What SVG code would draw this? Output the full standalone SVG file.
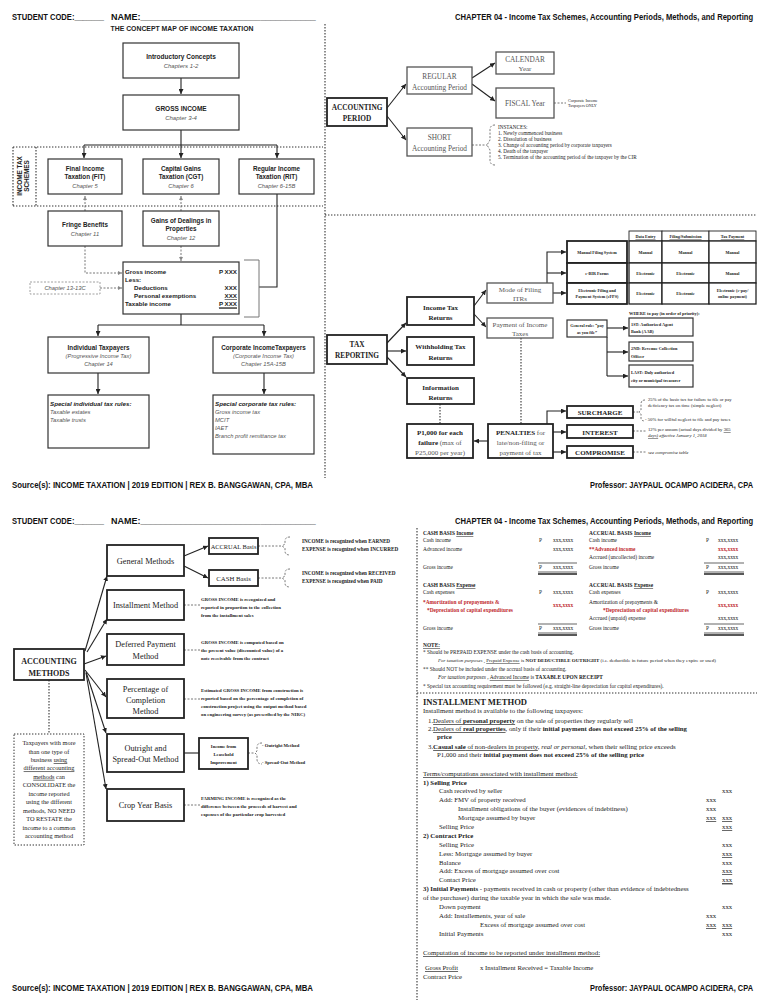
<svg xmlns="http://www.w3.org/2000/svg" width="768" height="1006" viewBox="0 0 768 1006">
<style>
.s{font-family:"Liberation Sans",Arial,sans-serif;fill:#222}
.t{font-family:"Liberation Serif","Times New Roman",serif;fill:#222}
.b{font-weight:bold}
.i{font-style:italic}
.g{fill:#555}
.r{fill:#c0282d;font-weight:bold}
.m{text-anchor:middle}
.e{text-anchor:end}
.u{text-decoration:underline}
.hd{font-family:"Liberation Sans",Arial,sans-serif;font-weight:bold;font-size:9px;fill:#111}
.bx{fill:#fff;stroke:#333;stroke-width:1.2}
.bk{fill:#fff;stroke:#222;stroke-width:1.8}
.gb{fill:#fff;stroke:#555;stroke-width:1.3}
.ln{fill:none;stroke:#222;stroke-width:1.1}
.tl{fill:none;stroke:#222;stroke-width:0.7}
.ds{fill:none;stroke:#555;stroke-width:0.8;stroke-dasharray:2 1.5}
.dt{fill:none;stroke:#333;stroke-width:1.1;stroke-dasharray:1.4 1.6}
</style>
<defs>
<marker id="ah" viewBox="0 0 10 10" refX="10" refY="5" markerWidth="5" markerHeight="5" markerUnits="userSpaceOnUse" orient="auto"><path d="M0,0L10,5L0,10z" fill="#222"/></marker>
<marker id="ag" viewBox="0 0 10 10" refX="10" refY="5" markerWidth="4" markerHeight="4" markerUnits="userSpaceOnUse" orient="auto"><path d="M0,0L10,5L0,10z" fill="#888"/></marker>
</defs>
<rect width="768" height="1006" fill="#fff"/>

<!-- ===== headers / footers ===== -->
<g id="headers">
<text class="hd" transform="translate(12,20) scale(0.844,1)" textLength="109" lengthAdjust="spacingAndGlyphs">STUDENT CODE:_______</text>
<text class="hd" x="111" y="20">NAME:___________________________________</text>
<text class="hd" transform="translate(455,20) scale(0.842,1)" textLength="354" lengthAdjust="spacingAndGlyphs">CHAPTER 04 - Income Tax Schemes, Accounting Periods, Methods, and Reporting</text>
<text class="hd" transform="translate(12,488) scale(0.856,1)" textLength="351.6" lengthAdjust="spacingAndGlyphs">Source(s): INCOME TAXATION | 2019 EDITION | REX B. BANGGAWAN, CPA, MBA</text>
<text class="hd" transform="translate(590,488) scale(0.815,1)" textLength="200" lengthAdjust="spacingAndGlyphs">Professor: JAYPAUL OCAMPO ACIDERA, CPA</text>
<text class="hd" transform="translate(12,524) scale(0.844,1)" textLength="109" lengthAdjust="spacingAndGlyphs">STUDENT CODE:_______</text>
<text class="hd" x="111" y="524">NAME:___________________________________</text>
<text class="hd" transform="translate(455,524) scale(0.842,1)" textLength="354" lengthAdjust="spacingAndGlyphs">CHAPTER 04 - Income Tax Schemes, Accounting Periods, Methods, and Reporting</text>
<text class="hd" transform="translate(12,991) scale(0.856,1)" textLength="351.6" lengthAdjust="spacingAndGlyphs">Source(s): INCOME TAXATION | 2019 EDITION | REX B. BANGGAWAN, CPA, MBA</text>
<text class="hd" transform="translate(590,991) scale(0.815,1)" textLength="200" lengthAdjust="spacingAndGlyphs">Professor: JAYPAUL OCAMPO ACIDERA, CPA</text>
</g>

<!-- separators -->
<g id="separators">
<path class="dt" d="M325,24V478M325,215H757M417,528V1000M417,693H757"/>
<path class="dt" d="M13,147H323M13,206H323M13,147V206M36,147V206"/>
</g>

<!-- ===== connectors ===== -->
<g id="connectors">
<path class="ln" marker-end="url(#ah)" d="M181,78V94"/>
<path class="ln" d="M181,130V145M84,145H277"/>
<path class="ln" marker-end="url(#ah)" d="M84,145V158"/>
<path class="ln" marker-end="url(#ah)" d="M181,145V158"/>
<path class="ln" marker-end="url(#ah)" d="M277,145V158"/>
<path class="ds" marker-end="url(#ag)" d="M85,211V196"/>
<path class="ds" marker-end="url(#ag)" d="M181,211V196"/>
<path class="ds" marker-end="url(#ag)" d="M85,246V273H122"/>
<path class="ds" marker-end="url(#ag)" d="M181,246V261"/>
<path class="ds" marker-end="url(#ag)" d="M100,288H122"/>
<path class="ln" d="M277,194V287H259"/>
<path fill="none" stroke="#777" stroke-width="1" d="M244,260H259V317H244"/>
<path class="ln" d="M181,314V325M98,325H264"/>
<path class="ln" marker-end="url(#ah)" d="M98,325V336"/>
<path class="ln" marker-end="url(#ah)" d="M264,325V336"/>
<path class="ln" marker-end="url(#ah)" d="M98,373V394"/>
<path class="ln" marker-end="url(#ah)" d="M264,373V394"/>
<path class="ln" marker-end="url(#ah)" d="M387,108L406,84"/>
<path class="ln" marker-end="url(#ah)" d="M387,116L406,140"/>
<path class="ln" marker-end="url(#ah)" d="M472,78L495,63"/>
<path class="ln" marker-end="url(#ah)" d="M472,84L495,101"/>
<path class="ds" d="M554,103H566M472,145H487"/>
<path class="ds" d="M495,125Q490,125 490,130V140L487,145L490,150V160Q490,165 495,165"/>
<path class="ln" marker-end="url(#ah)" d="M387,343L406,323"/>
<path class="ln" marker-end="url(#ah)" d="M387,351H406"/>
<path class="ln" marker-end="url(#ah)" d="M387,357L406,377"/>
<path class="ln" marker-end="url(#ah)" d="M474,306L486,290"/>
<path class="ln" marker-end="url(#ah)" d="M474,314L486,327"/>
<path class="ln" marker-end="url(#ah)" d="M547,283V252H566"/>
<path class="ln" marker-end="url(#ah)" d="M547,273H566"/>
<path class="ln" marker-end="url(#ah)" d="M553,293H566"/>
<path class="ln" marker-end="url(#ah)" d="M607,328H628"/>
<path class="ln" d="M607,337V376"/>
<path class="ln" marker-end="url(#ah)" d="M607,352H628"/>
<path class="ln" marker-end="url(#ah)" d="M607,376H628"/>
<path class="dt" stroke-width="0.9" d="M521,338V424M440,404V424"/>
<path class="ln" marker-end="url(#ah)" d="M488,441H474"/>
<path class="ln" marker-end="url(#ah)" d="M547,424V411H566"/>
<path class="ln" marker-end="url(#ah)" d="M553,432H566"/>
<path class="ln" marker-end="url(#ah)" d="M553,452H566"/>
<path class="ds" d="M633,412H640M645,400Q641,400 641,404V410L639,412L641,414V418Q641,421 645,421M633,431H647M633,452H647"/>
<path class="ln" marker-end="url(#ah)" d="M85,651L107,576"/>
<path class="ln" marker-end="url(#ah)" d="M87,652L107,619"/>
<path class="ln" marker-end="url(#ah)" d="M84,664L106,656"/>
<path class="ln" marker-end="url(#ah)" d="M85,670L106,697"/>
<path class="ln" marker-end="url(#ah)" d="M86,672L106,733"/>
<path class="ln" marker-end="url(#ah)" d="M86,673L106,789"/>
<path class="ln" marker-end="url(#ah)" d="M184,556L208,546"/>
<path class="ln" marker-end="url(#ah)" d="M184,566L208,578"/>
<path class="ln" d="M184,753H199"/>
<path class="ds" d="M258,546H282M290,537Q285,537 285,541V544L282,546L285,548V551Q285,555 290,555"/>
<path class="ds" d="M258,578H282M290,569Q285,569 285,573V576L282,578L285,580V583Q285,587 290,587"/>
<path class="ds" d="M184,605H200M184,650H200M184,699H200M184,805H200"/>
<path class="ds" d="M248,753H254M262,743Q257,743 257,747V751L255,753L257,755V759Q257,764 262,764"/>
<path class="dt" d="M49,680V734"/>
</g>

<!-- ===== concept map nodes ===== -->
<text class="s b m" x="182" y="31" font-size="6.3" textLength="143" lengthAdjust="spacingAndGlyphs">THE CONCEPT MAP OF INCOME TAXATION</text>
<g id="n-intro"><rect class="bx" x="123" y="43" width="116" height="35"/>
<text class="s b m" x="181" y="59" font-size="6.5">Introductory Concepts</text>
<text class="s i m g" x="181" y="67.5" font-size="6">Chapters 1-2</text></g>
<g id="n-gross"><rect class="bx" x="123" y="95" width="116" height="35"/>
<text class="s b m" x="181" y="111" font-size="6.5">GROSS INCOME</text>
<text class="s i m g" x="181" y="119.5" font-size="6">Chapter 3-4</text></g>
<g id="n-schemes"><text class="s b m" transform="translate(21.8,176) rotate(-90)" font-size="6.4">INCOME TAX</text>
<text class="s b m" transform="translate(29.3,176) rotate(-90)" font-size="6.4">SCHEMES</text></g>
<g id="n-fit"><rect class="bx" x="48" y="159" width="74" height="35"/>
<text class="s b m" x="85" y="171" font-size="6.3">Final Income</text>
<text class="s b m" x="85" y="179" font-size="6.3">Taxation (FIT)</text>
<text class="s i m g" x="85" y="187.5" font-size="5.8">Chapter 5</text></g>
<g id="n-cgt"><rect class="bx" x="143" y="159" width="76" height="35"/>
<text class="s b m" x="181" y="171" font-size="6.3">Capital Gains</text>
<text class="s b m" x="181" y="179" font-size="6.3">Taxation (CGT)</text>
<text class="s i m g" x="181" y="187.5" font-size="5.8">Chapter 6</text></g>
<g id="n-rit"><rect class="bx" x="239" y="159" width="75" height="35"/>
<text class="s b m" x="276.5" y="171" font-size="6.3">Regular Income</text>
<text class="s b m" x="276.5" y="179" font-size="6.3">Taxation (RIT)</text>
<text class="s i m g" x="276.5" y="187.5" font-size="5.8">Chapter 6-15B</text></g>
<g id="n-fringe"><rect class="bx" x="48" y="211" width="74" height="35"/>
<text class="s b m" x="85" y="227" font-size="6.3">Fringe Benefits</text>
<text class="s i m g" x="85" y="235.5" font-size="5.8">Chapter 11</text></g>
<g id="n-gains"><rect class="bx" x="143" y="211" width="76" height="35"/>
<text class="s b m" x="181" y="223" font-size="6.3">Gains of Dealings in</text>
<text class="s b m" x="181" y="231" font-size="6.3">Properties</text>
<text class="s i m g" x="181" y="239.5" font-size="5.8">Chapter 12</text></g>
<g id="n-taxable"><rect class="bx" x="123" y="262" width="116" height="52"/>
<g class="s b" font-size="6.2">
<text x="125" y="274">Gross income</text><text class="e" x="237" y="274">P XXX</text>
<text x="125" y="282">Less:</text>
<text x="134" y="290">Deductions</text><text class="e" x="237" y="290">XXX</text>
<text x="134" y="298">Personal exemptions</text><text class="e u" x="237" y="298">XXX</text>
<text x="125" y="306">Taxable income</text><text class="e u" x="237" y="306">P XXX</text>
</g><path class="tl" d="M219,308.5H237"/></g>
<g id="n-ch13"><rect x="30" y="282" width="70" height="12" fill="#fff" stroke="#888" stroke-width="0.8" stroke-dasharray="2 1.5"/>
<text class="s i m g" x="65" y="290.3" font-size="5.8">Chapter 13-13C</text></g>
<g id="n-indiv"><rect class="bx" x="48" y="337" width="101" height="36"/>
<text class="s b m" x="98.5" y="349.5" font-size="6.3">Individual Taxpayers</text>
<text class="s i m g" x="98.5" y="357.5" font-size="5.8">(Progressive Income Tax)</text>
<text class="s i m g" x="98.5" y="365.5" font-size="5.8">Chapter 14</text></g>
<g id="n-corp"><rect class="bx" x="213" y="337" width="101" height="36"/>
<text class="s b m" x="263.5" y="349.5" font-size="6.3">Corporate IncomeTaxpayers</text>
<text class="s i m g" x="263.5" y="357.5" font-size="5.8">(Corporate Income Tax)</text>
<text class="s i m g" x="263.5" y="365.5" font-size="5.8">Chapter 15A-15B</text></g>
<g id="n-spind"><rect class="bx" x="48" y="395" width="101" height="53"/>
<text class="s b i" x="50" y="406" font-size="6.2">Special individual tax rules:</text>
<text class="s i g" x="50" y="414" font-size="5.8">Taxable estates</text>
<text class="s i g" x="50" y="422" font-size="5.8">Taxable trusts</text></g>
<g id="n-spcorp"><rect class="bx" x="213" y="395" width="101" height="59"/>
<text class="s b i" x="215" y="406" font-size="6.2">Special corporate tax rules:</text>
<text class="s i g" x="215" y="414" font-size="5.8">Gross income tax</text>
<text class="s i g" x="215" y="422" font-size="5.8">MCIT</text>
<text class="s i g" x="215" y="430" font-size="5.8">IAET</text>
<text class="s i g" x="215" y="438" font-size="5.8">Branch profit remittance tax</text></g>

<!-- ===== accounting period ===== -->
<g id="n-accper"><rect class="bk" x="327" y="98" width="60" height="28"/>
<text class="t b m" x="357" y="110" font-size="7.3">ACCOUNTING</text>
<text class="t b m" x="357" y="121" font-size="7.3">PERIOD</text></g>
<g id="n-regular"><rect class="gb" x="407" y="67" width="65" height="27"/>
<text class="t m g" x="439.5" y="79" font-size="7.3">REGULAR</text>
<text class="t m g" x="439.5" y="90" font-size="7.3">Accounting Period</text></g>
<g id="n-short"><rect class="gb" x="407" y="128" width="65" height="28"/>
<text class="t m g" x="439.5" y="140" font-size="7.3">SHORT</text>
<text class="t m g" x="439.5" y="151" font-size="7.3">Accounting Period</text></g>
<g id="n-calendar"><rect class="gb" x="496" y="52" width="58" height="22"/>
<text class="t m g" x="525" y="62" font-size="7.3">CALENDAR</text>
<text class="t m g" x="525" y="71" font-size="7">Year</text></g>
<g id="n-fiscal"><rect class="gb" x="496" y="88" width="58" height="30"/>
<text class="t m g" x="525" y="106" font-size="7.3">FISCAL Year</text></g>
<g id="n-fiscal-note" class="t" font-size="4.1"><text x="568" y="101.5">Corporate Income</text><text x="568" y="106.5">Taxpayers ONLY</text></g>
<g id="n-instances" class="t" font-size="5.2">
<text x="498" y="129">INSTANCES:</text>
<text x="498" y="135">1. Newly commenced business</text>
<text x="498" y="141">2. Dissolution of business</text>
<text x="498" y="147">3. Change of accounting period by corporate taxpayers</text>
<text x="498" y="153">4. Death of the taxpayer</text>
<text x="498" y="159">5. Termination of the accounting period of the taxpayer by the CIR</text></g>

<!-- ===== tax reporting ===== -->
<g id="n-table">
<g fill="#fff" stroke="#222" stroke-width="0.9">
<rect x="629" y="231" width="33" height="10"/><rect x="662" y="231" width="47" height="10"/><rect x="709" y="231" width="47" height="10"/>
</g>
<g fill="#fff" stroke="#222" stroke-width="1.3">
<rect x="629" y="241" width="33" height="22"/><rect x="662" y="241" width="47" height="22"/><rect x="709" y="241" width="47" height="22"/>
<rect x="629" y="263" width="33" height="20"/><rect x="662" y="263" width="47" height="20"/><rect x="709" y="263" width="47" height="20"/>
<rect x="629" y="283" width="33" height="21"/><rect x="662" y="283" width="47" height="21"/><rect x="709" y="283" width="47" height="21"/>
</g>
<g fill="#fff" stroke="#222" stroke-width="1.8">
<rect x="567" y="241" width="60" height="22"/><rect x="567" y="263" width="60" height="20"/><rect x="567" y="283" width="60" height="21"/>
</g>
<g class="t b m" font-size="4.2">
<text class="u" x="645.5" y="238">Data Entry</text><text class="u" x="685.5" y="238">Filing/Submission</text><text class="u" x="732.5" y="238">Tax Payment</text>
<text x="597" y="253.5">Manual Filing System</text><text x="645.5" y="253.5">Manual</text><text x="685.5" y="253.5">Manual</text><text x="732.5" y="253.5">Manual</text>
<text x="597" y="274.5">e-BIR Forms</text><text x="645.5" y="274.5">Electronic</text><text x="685.5" y="274.5">Electronic</text><text x="732.5" y="274.5">Manual</text>
<text x="597" y="292">Electronic Filing and</text><text x="597" y="298">Payment System (eFPS)</text>
<text x="645.5" y="295">Electronic</text><text x="685.5" y="295">Electronic</text>
<text x="732.5" y="292">Electronic (e-pay/</text><text x="732.5" y="298">online payment)</text>
</g></g>
<g id="n-mode"><rect class="gb" x="487" y="283" width="66" height="20"/>
<text class="t m g" x="520" y="292" font-size="7">Mode of Filing</text>
<text class="t m g" x="520" y="301" font-size="7">ITRs</text></g>
<g id="n-itr"><rect class="bk" x="407" y="297" width="67" height="28"/>
<text class="t b m" x="440.5" y="309.5" font-size="7">Income Tax</text>
<text class="t b m" x="440.5" y="319.5" font-size="7">Returns</text></g>
<g id="n-payment"><rect class="gb" x="487" y="318" width="66" height="20"/>
<text class="t m g" x="520" y="327" font-size="7">Payment of Income</text>
<text class="t m g" x="520" y="336" font-size="7">Taxes</text></g>
<g id="n-general"><rect class="bx" x="567" y="320" width="40" height="17"/>
<text class="t b m" x="587" y="327" font-size="4.2">General rule: “pay</text>
<text class="t b m" x="587" y="333.5" font-size="4.2">as you file”</text></g>
<text class="t b" x="629" y="315" font-size="4.4">WHERE to pay (in order of priority):</text>
<g id="n-1st"><rect class="bx" x="629" y="318" width="64" height="18"/>
<text class="t b" x="631" y="326" font-size="4.3">1ST: Authorized Agent</text>
<text class="t b" x="631" y="333" font-size="4.3">Bank (AAB)</text></g>
<g id="n-2nd"><rect class="bx" x="629" y="342" width="64" height="19"/>
<text class="t b" x="631" y="350" font-size="4.3">2ND: Revenue Collection</text>
<text class="t b" x="631" y="357.5" font-size="4.3">Officer</text></g>
<g id="n-last"><rect class="bx" x="629" y="365" width="64" height="22"/>
<text class="t b" x="631" y="374" font-size="4.3">LAST: Duly authorized</text>
<text class="t b" x="631" y="382" font-size="4.3">city or municipal treasurer</text></g>
<g id="n-taxrep"><rect class="bk" x="327" y="335" width="60" height="29"/>
<text class="t b m" x="357" y="347" font-size="7.3">TAX</text>
<text class="t b m" x="357" y="358" font-size="7.3">REPORTING</text></g>
<g id="n-withholding"><rect class="bk" x="407" y="337" width="67" height="28"/>
<text class="t b m" x="440.5" y="349" font-size="7">Withholding Tax</text>
<text class="t b m" x="440.5" y="359.5" font-size="7">Returns</text></g>
<g id="n-info"><rect class="bk" x="407" y="378" width="67" height="26"/>
<text class="t b m" x="440.5" y="390" font-size="7">Information</text>
<text class="t b m" x="440.5" y="400" font-size="7">Returns</text></g>
<g id="n-p1000"><rect class="bk" x="407" y="424" width="66" height="34"/>
<text class="t b m" x="440" y="435" font-size="7">P1,000 for each</text>
<text class="t m" x="440" y="445" font-size="7"><tspan font-weight="bold">failure</tspan><tspan class="g"> (max of</tspan></text>
<text class="t m g" x="440" y="455" font-size="7">P25,000 per year)</text></g>
<g id="n-penalties"><rect class="bk" x="488" y="424" width="65" height="34"/>
<text class="t m" x="520.5" y="435" font-size="7"><tspan font-weight="bold">PENALTIES</tspan><tspan class="g"> for</tspan></text>
<text class="t m g" x="520.5" y="445" font-size="7">late/non-filing or</text>
<text class="t m g" x="520.5" y="455" font-size="7">payment of tax</text></g>
<g id="n-surcharge"><rect class="bk" x="567" y="406" width="66" height="12"/>
<text class="t b m" x="600" y="415" font-size="7">SURCHARGE</text></g>
<g id="n-interest"><rect class="bk" x="567" y="425" width="66" height="13"/>
<text class="t b m" x="600" y="434.5" font-size="7">INTEREST</text></g>
<g id="n-compromise"><rect class="bk" x="567" y="446" width="66" height="12"/>
<text class="t b m" x="600" y="455" font-size="7">COMPROMISE</text></g>
<g id="n-pen-notes" class="t" font-size="4.7">
<text x="648" y="401">25% of the basic tax for failure to file or pay</text>
<text x="648" y="407">deficiency tax on time (simple neglect)</text>
<text x="645" y="420.5">- 50% for willful neglect to file and pay taxes</text>
<text x="648" y="431">12% per annum (actual days divided by <tspan class="u">365</tspan></text>
<text class="i" x="648" y="437"><tspan class="u">days)</tspan> effective January 1, 2018</text>
<text class="i" x="648" y="454">see compromise table</text></g>

<!-- ===== accounting methods ===== -->
<g id="n-accmeth"><rect class="bk" x="14" y="649" width="70" height="31"/>
<text class="t b m" x="49" y="664" font-size="8">ACCOUNTING</text>
<text class="t b m" x="49" y="676" font-size="8">METHODS</text></g>
<g id="n-genmeth"><rect class="bk" x="107" y="545" width="77" height="31"/>
<text class="t m" x="145.5" y="564" font-size="8.3" fill="#444">General Methods</text></g>
<g id="n-accrual"><rect class="bk" x="209" y="538" width="49" height="16"/>
<text class="t m" x="233.5" y="548.5" font-size="6.4" fill="#444">ACCRUAL Basis</text></g>
<g id="n-cash"><rect class="bk" x="209" y="570" width="49" height="16"/>
<text class="t m" x="233.5" y="580.5" font-size="6.8" fill="#444">CASH Basis</text></g>
<g class="t b" font-size="5.2">
<text x="302" y="543">INCOME is recognized when EARNED</text>
<text x="302" y="551">EXPENSE is recognized when INCURRED</text>
<text x="302" y="575">INCOME is recognized when RECEIVED</text>
<text x="302" y="583">EXPENSE is recognized when PAID</text>
</g>
<g id="n-install"><rect class="bk" x="107" y="590" width="77" height="30"/>
<text class="t m" x="145.5" y="608" font-size="8.3" fill="#444">Installment Method</text></g>
<g id="n-deferred"><rect class="bk" x="107" y="634" width="77" height="31"/>
<text class="t m" x="145.5" y="647" font-size="8.3" fill="#444">Deferred Payment</text>
<text class="t m" x="145.5" y="659" font-size="8.3" fill="#444">Method</text></g>
<g id="n-percent"><rect class="bk" x="107" y="679" width="77" height="39"/>
<text class="t m" x="145.5" y="692" font-size="8.3" fill="#444">Percentage of</text>
<text class="t m" x="145.5" y="703" font-size="8.3" fill="#444">Completion</text>
<text class="t m" x="145.5" y="714" font-size="8.3" fill="#444">Method</text></g>
<g id="n-outright"><rect class="bk" x="107" y="734" width="77" height="38"/>
<text class="t m" x="145.5" y="751" font-size="8.3" fill="#444">Outright and</text>
<text class="t m" x="145.5" y="762" font-size="8.3" fill="#444">Spread-Out Method</text></g>
<g id="n-lease"><rect class="bk" x="199" y="738" width="49" height="31"/>
<text class="t b m" x="223.5" y="748" font-size="4.6">Income from</text>
<text class="t b m" x="223.5" y="756" font-size="4.6">Leasehold</text>
<text class="t b m" x="223.5" y="764" font-size="4.6">Improvement</text></g>
<g class="t b" font-size="4.7"><text x="262" y="747">- Outright Method</text><text x="262" y="764">- Spread-Out Method</text></g>
<g id="n-crop"><rect class="bk" x="107" y="789" width="77" height="32"/>
<text class="t m" x="145.5" y="808" font-size="8.3" fill="#444">Crop Year Basis</text></g>
<g class="t b" font-size="4.8">
<text x="201" y="601">GROSS INCOME is recognized and</text>
<text x="201" y="609">reported in proportion to the collection</text>
<text x="201" y="617">from the installment sales</text>
<text x="201" y="644">GROSS INCOME is computed based on</text>
<text x="201" y="652">the present value (discounted value) of a</text>
<text x="201" y="660">note receivable from the contract</text>
<text x="201" y="692">Estimated GROSS INCOME from construction is</text>
<text x="201" y="700">reported based on the percentage of completion of</text>
<text x="201" y="708">construction project using the output method based</text>
<text x="201" y="716">on engineering survey (as prescribed by the NIRC)</text>
<text x="201" y="800">FARMING INCOME is recognized as the</text>
<text x="201" y="808">difference between the proceeds of harvest and</text>
<text x="201" y="816">expenses of the particular crop harvested</text>
</g>
<g id="n-consolidate"><rect x="14" y="734" width="70" height="111" fill="#fff" stroke="#333" stroke-width="1" stroke-dasharray="1.4 1.6"/>
<g class="t m" font-size="6.3" fill="#444">
<text x="49" y="745">Taxpayers with more</text>
<text x="49" y="753.5">than one type of</text>
<text x="49" y="762">business <tspan class="u">using</tspan></text>
<text class="u" x="49" y="770.4">different accounting</text>
<text x="49" y="778.8"><tspan class="u">methods</tspan> can</text>
<text x="49" y="787.3">CONSOLIDATE the</text>
<text x="49" y="795.7">income reported</text>
<text x="49" y="804.1">using the different</text>
<text x="49" y="812.6">methods, NO NEED</text>
<text x="49" y="821">TO RESTATE the</text>
<text x="49" y="829.5">income to a common</text>
<text x="49" y="838">accounting method</text>
</g></g>

<!-- ===== cash / accrual tables ===== -->
<g id="n-basis" class="t" font-size="5.4">
<text class="b" x="423" y="535">CASH BASIS <tspan class="u">Income</tspan></text>
<text x="423" y="542">Cash income</text><text x="539" y="542">P</text><text x="553" y="542">xxx,xxxx</text>
<text x="423" y="551">Advanced income</text><text x="553" y="551">xxx,xxxx</text>
<text x="423" y="569">Gross income</text><text x="539" y="569">P</text><text x="553" y="569">xxx,xxxx</text>
<text class="b" x="589" y="535">ACCRUAL BASIS <tspan class="u">Income</tspan></text>
<text x="589" y="542">Cash income</text><text x="706" y="542">P</text><text x="718" y="542">xxx,xxxx</text>
<text class="r" x="589" y="551">**Advanced income</text><text class="r" x="718" y="551" font-weight="normal">xxx,xxxx</text>
<text x="589" y="559">Accrued (uncollected) income</text><text x="718" y="559">xxx,xxxx</text>
<text x="589" y="569">Gross income</text><text x="706" y="569">P</text><text x="718" y="569">xxx,xxxx</text>
<text class="b" x="423" y="587">CASH BASIS <tspan class="u">Expense</tspan></text>
<text x="423" y="594">Cash expenses</text><text x="539" y="594">P</text><text x="553" y="594">xxx,xxxx</text>
<text class="r" x="423" y="604">*Amortization of prepayments &amp;</text>
<text class="r" x="427" y="612">*Depreciation of capital expenditures</text>
<text class="r" x="553" y="607" font-weight="normal">xxx,xxxx</text>
<text x="423" y="630">Gross income</text><text x="539" y="630">P</text><text x="553" y="630">xxx,xxxx</text>
<text class="b" x="589" y="587">ACCRUAL BASIS <tspan class="u">Expense</tspan></text>
<text x="589" y="594">Cash expenses</text><text x="706" y="594">P</text><text x="718" y="594">xxx,xxxx</text>
<text x="589" y="604">Amortization of prepayments &amp;</text>
<text class="r" x="603" y="612">*Depreciation of capital expenditures</text>
<text class="r" x="718" y="607" font-weight="normal">xxx,xxxx</text>
<text x="589" y="620">Accrued (unpaid) expense</text><text x="718" y="620">xxx,xxxx</text>
<text x="589" y="630">Gross income</text><text x="706" y="630">P</text><text x="718" y="630">xxx,xxxx</text>
</g>
<path class="tl" stroke-width="0.8" d="M538,563H577M538,572H577M704,563H744M704,572H744M538,624H577M538,633H577M704,624H744M704,633H744"/>
<path stroke="#222" stroke-width="1.4" fill="none" d="M538,574H577M704,574H744M538,635H577M704,635H744"/>
<g id="n-notes" class="t" font-size="5.4">
<text class="b u" x="423" y="647">NOTE:</text>
<text x="423" y="654">* Should be PREPAID EXPENSE under the cash basis of accounting.</text>
<text x="438" y="662" font-size="5"><tspan class="i">For taxation purposes</tspan> , <tspan class="u">Prepaid Expense</tspan> is <tspan font-weight="bold">NOT DEDUCTIBLE OUTRIGHT</tspan> (i.e. deductible in future period when they expire or used)</text>
<text x="423" y="671">** Should NOT be included under the accrual basis of accounting.</text>
<text x="438" y="679"><tspan class="i">For taxation purposes</tspan> , <tspan class="u">Advanced Income</tspan> is <tspan font-weight="bold">TAXABLE UPON RECEIPT</tspan></text>
<text x="423" y="688">* Special tax accounting requirement must be followed (e.g. straight-line depreciation for capital expenditures).</text>
</g>

<!-- ===== installment method ===== -->
<g id="n-installment" class="t" font-size="6.8">
<text class="b" x="423" y="705" font-size="8.6">INSTALLMENT METHOD</text>
<text x="423" y="713">Installment method is available to the following taxpayers:</text>
<text x="428" y="723">1.<tspan class="u">Dealers of <tspan font-weight="bold">personal property</tspan></tspan> on the sale of properties they regularly sell</text>
<text x="428" y="731">2.<tspan class="u">Dealers of <tspan font-weight="bold">real properties</tspan></tspan>, only if their <tspan font-weight="bold">initial payment does not exceed 25% of the selling</tspan></text>
<text class="b" x="437" y="739">price</text>
<text x="428" y="749">3.<tspan class="u"><tspan font-weight="bold">Casual sale</tspan> of non-dealers in property</tspan>, <tspan class="i">real or personal</tspan>, when their selling price exceeds</text>
<text x="437" y="757">P1,000 and their <tspan font-weight="bold">initial payment does not exceed 25% of the selling price</tspan></text>
<text class="u" x="423" y="776">Terms/computations associated with installment method:</text>
<text class="b" x="423" y="785">1) Selling Price</text>
<text x="439" y="793">Cash received by seller</text><text x="722" y="793">xxx</text>
<text x="439" y="802">Add: FMV of property received</text><text x="706" y="802">xxx</text>
<text x="458" y="811">Installment obligations of the buyer (evidences of indebtiness)</text><text x="706" y="811">xxx</text>
<text x="458" y="820">Mortgage assumed by buyer</text><text class="u" x="706" y="820">xxx</text><text class="u" x="722" y="820">xxx</text>
<text x="439" y="829">Selling Price</text><text class="u" x="722" y="829">xxx</text>
<text class="b" x="423" y="838">2) Contract Price</text>
<text x="439" y="847">Selling Price</text><text x="722" y="847">xxx</text>
<text x="439" y="856">Less: Mortgage assumed by buyer</text><text class="u" x="722" y="856">xxx</text>
<text x="439" y="865">Balance</text><text x="722" y="865">xxx</text>
<text x="439" y="873">Add: Excess of mortgage assumed over cost</text><text class="u" x="722" y="873">xxx</text>
<text x="439" y="882">Contact Price</text><text class="u" x="722" y="882">xxx</text>
<text x="423" y="891"><tspan font-weight="bold">3) Initial Payments</tspan> - payments received in cash or property (other than evidence of indebtedness</text>
<text x="423" y="900">of the purchaser) during the taxable year in which the sale was made.</text>
<text x="439" y="909">Down payment</text><text x="722" y="909">xxx</text>
<text x="439" y="918">Add: Installements, year of sale</text><text x="706" y="918">xxx</text>
<text x="480" y="927">Excess of mortgage assumed over cost</text><text class="u" x="706" y="927">xxx</text><text class="u" x="722" y="927">xxx</text>
<text x="439" y="936">Initial Payments</text><text x="722" y="936">xxx</text>
<text class="u" x="423" y="955">Computation of income to be reported under installment method:</text>
<text x="425" y="970"><tspan class="u"> Gross Profit </tspan></text>
<text x="480" y="970">x   Installment Received = Taxable Income</text>
<text x="423" y="979">Contract Price</text>
</g>
<path class="tl" stroke-width="0.6" d="M722,884H733"/>
</svg>
